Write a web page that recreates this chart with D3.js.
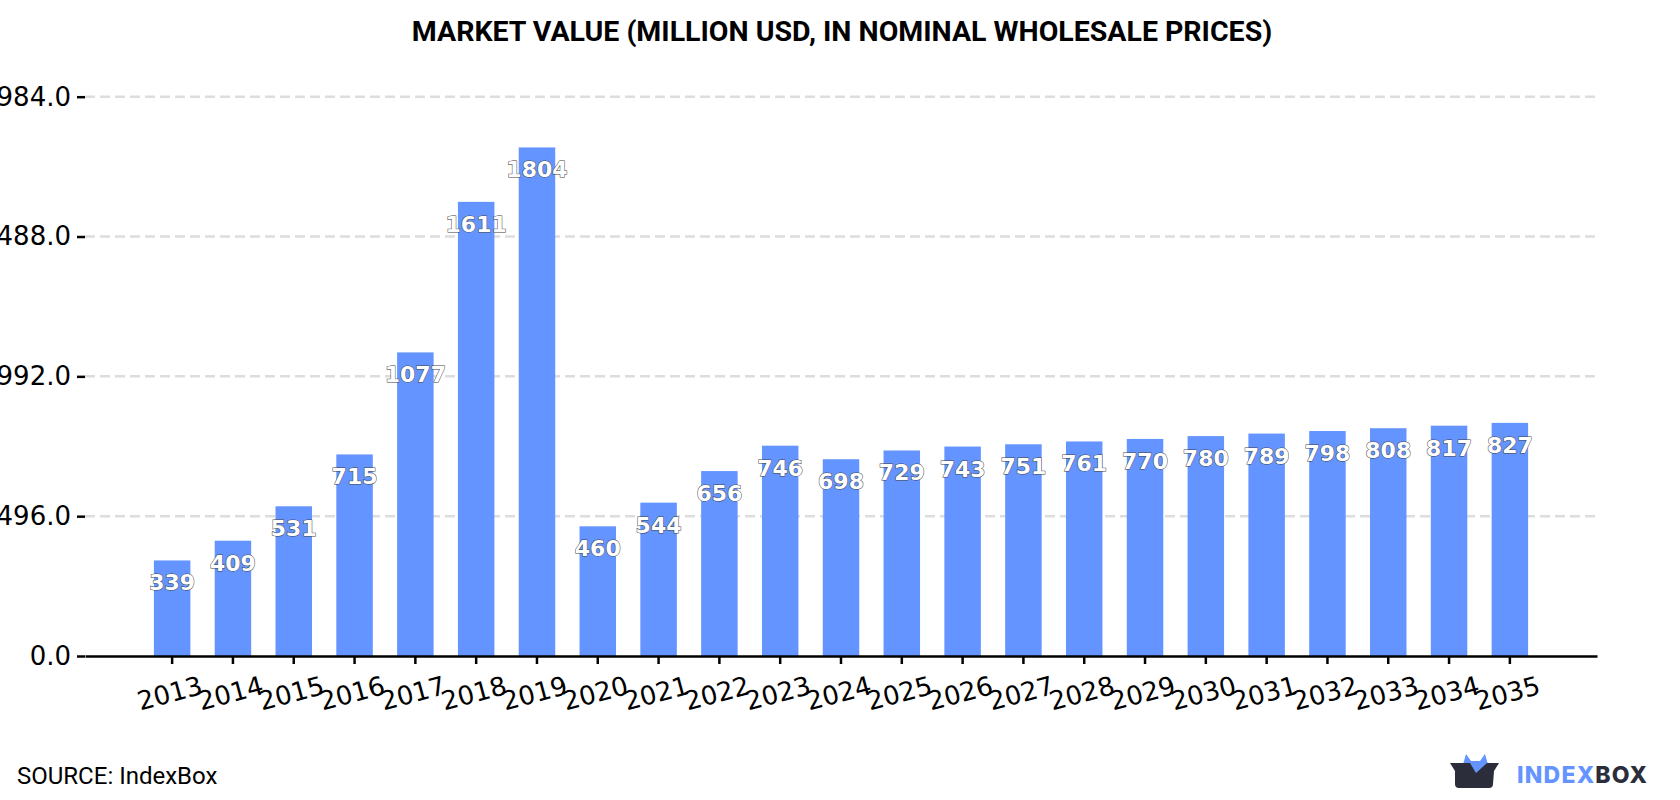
<!DOCTYPE html>
<html>
<head>
<meta charset="utf-8">
<script src="https://cdn.jsdelivr.net/npm/d3@7"></script>
<style>
  html, body { margin: 0; padding: 0; background: #fff; overflow: hidden; }
  svg { display: block; }
</style>
</head>
<body>
<svg id="chart" width="1680" height="800"></svg>
<script>
const years = ["2013","2014","2015","2016","2017","2018","2019","2020","2021","2022","2023","2024","2025","2026","2027","2028","2029","2030","2031","2032","2033","2034","2035"];
const marketValue = [339,409,531,715,1077,1611,1804,460,544,656,746,698,729,743,751,761,770,780,789,798,808,817,827];
const valueTicks = [0,496,992,1488,1984];

const titleText = "MARKET VALUE (MILLION USD, IN NOMINAL WHOLESALE PRICES)";
const sourceText = "SOURCE: IndexBox";

const plotLeft = 85, plotRight = 1597, plotTop = 96.7, plotBottom = 656;
const svg = d3.select("#chart");

const x = d3.scaleBand().domain(years).range([plotLeft, plotRight])
  .paddingInner(0.4).paddingOuter(1.133);
const y = d3.scaleLinear().domain([0, 1984]).range([plotBottom, plotTop]);

svg.append("text")
  .attr("x", 842).attr("y", 41)
  .attr("text-anchor", "middle")
  .attr("font-family", "Roboto").attr("font-weight", 700).attr("font-size", 28.5)
  .attr("fill", "#000")
  .text(titleText);

// Dashed horizontal grid, skipping the baseline
svg.append("g").selectAll("line")
  .data(valueTicks.filter(d => d > 0))
  .join("line")
  .attr("x1", plotLeft).attr("x2", plotRight)
  .attr("y1", d => y(d)).attr("y2", d => y(d))
  .attr("stroke", "#dddddd").attr("stroke-width", 2.5)
  .attr("stroke-dasharray", "10 5");

svg.append("g").selectAll("rect")
  .data(years)
  .join("rect")
  .attr("x", d => x(d))
  .attr("width", x.bandwidth())
  .attr("y", (d, i) => y(marketValue[i]))
  .attr("height", (d, i) => y(0) - y(marketValue[i]))
  .attr("fill", "#6394ff");

const yAxis = svg.append("g")
  .attr("transform", `translate(${plotLeft},0)`)
  .call(d3.axisLeft(y).tickValues(valueTicks).tickFormat(d3.format(".1f")).tickSize(8).tickPadding(6));
yAxis.select(".domain").remove();
yAxis.selectAll(".tick line").attr("stroke", "#000").attr("stroke-width", 2.5);
yAxis.selectAll("text")
  .attr("font-family", "DejaVu Sans").attr("font-size", 26).attr("fill", "#000");

const xAxis = svg.append("g")
  .attr("transform", `translate(0,${plotBottom})`)
  .call(d3.axisBottom(x).tickSize(8).tickSizeOuter(0));
xAxis.select(".domain").attr("stroke", "#000").attr("stroke-width", 2.5);
xAxis.selectAll(".tick line").attr("stroke", "#000").attr("stroke-width", 2.5);
xAxis.selectAll("text")
  .attr("font-family", "DejaVu Sans").attr("font-size", 26).attr("fill", "#000")
  .attr("text-anchor", "middle")
  .attr("y", 0).attr("dy", 0)
  .attr("transform", "translate(0,46) rotate(-15)");

// Value labels: white bold digits with a thin dark outline
svg.append("g").selectAll("text")
  .data(years)
  .join("text")
  .attr("x", d => x(d) + x.bandwidth() / 2)
  .attr("y", (d, i) => y(marketValue[i]) + 30)
  .attr("text-anchor", "middle")
  .attr("font-family", "DejaVu Sans").attr("font-weight", 700).attr("font-size", 22)
  .attr("fill", "#fff").attr("stroke", "#444").attr("stroke-width", 1)
  .attr("paint-order", "stroke")
  .text((d, i) => marketValue[i]);

svg.append("text")
  .attr("x", 17).attr("y", 784)
  .attr("font-family", "Roboto").attr("font-size", 24).attr("fill", "#000")
  .text(sourceText);

// IndexBox logo
const logo = svg.append("g");
logo.append("path")
  .attr("d", "M1462 768 L1466 754 L1471 761 L1480 761 L1485 754 L1489 768 L1484 773 L1466 773 Z")
  .attr("fill", "#6394ff");
logo.append("path")
  .attr("d", "M1450 763 L1470 763 L1476 773 L1487 763 L1499 763 L1494 771 L1493 784 Q1493 788 1489 788 L1459 788 Q1455 788 1455 784 L1455 771 Z")
  .attr("fill", "#2b2d3a");
const wordmark = svg.append("text")
  .attr("x", 1517).attr("y", 783)
  .attr("font-family", "Inter").attr("font-weight", 800).attr("font-size", 23).attr("letter-spacing", 1.2);
wordmark.append("tspan").attr("fill", "#6394ff").text("INDEX");
wordmark.append("tspan").attr("fill", "#2b2d3a").text("BOX");
</script>
</body>
</html>
